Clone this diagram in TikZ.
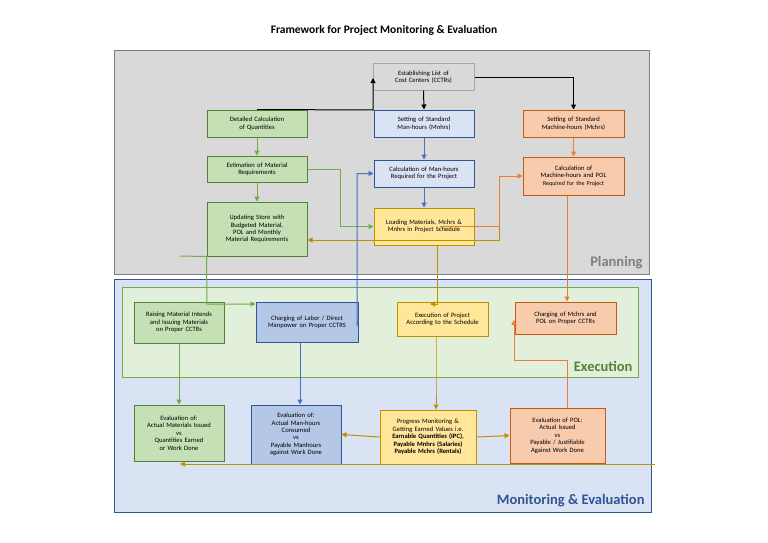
\documentclass[tikz,border=0pt]{standalone}
\usepackage{fontspec}
\setmainfont{Carlito}
\usetikzlibrary{arrows.meta}
\hyphenpenalty=10000
\exhyphenpenalty=10000
\begin{document}
\begin{tikzpicture}[x=1pt,y=-1pt,
  bx/.style={draw,line width=1pt,align=center,font=\fontsize{6.6}{7.4}\selectfont,inner sep=1pt},
  gbox/.style={bx,fill={rgb,255:red,197;green,224;blue,180},draw={rgb,255:red,84;green,130;blue,53}},
  bbox/.style={bx,fill={rgb,255:red,218;green,227;blue,243},draw={rgb,255:red,47;green,85;blue,151}},
  bbox2/.style={bx,fill={rgb,255:red,180;green,199;blue,231},draw={rgb,255:red,47;green,85;blue,151}},
  obox/.style={bx,fill={rgb,255:red,248;green,203;blue,173},draw={rgb,255:red,197;green,90;blue,17}},
  ybox/.style={bx,fill={rgb,255:red,255;green,230;blue,153},draw={rgb,255:red,191;green,144;blue,0}},
  kbox/.style={bx,fill={rgb,255:red,217;green,217;blue,217},draw={rgb,255:red,166;green,166;blue,166}},
  ar/.style={-{Triangle[length=5pt,width=5pt]},line width=1pt},
  gl/.style={draw={rgb,255:red,112;green,173;blue,71}},
  bl/.style={draw={rgb,255:red,68;green,114;blue,196}},
  ol/.style={draw={rgb,255:red,237;green,125;blue,49}},
  yl/.style={draw={rgb,255:red,191;green,144;blue,0}},
]
\useasboundingbox (0,0) rectangle (768,543);
\node[font=\bfseries\fontsize{11.5}{13}\selectfont] (title) at (384,30) {Framework for Project Monitoring \& Evaluation};
% regions
\draw[fill={rgb,255:red,217;green,217;blue,217},draw={rgb,255:red,127;green,127;blue,127}] (114,50) rectangle (649,274);
\draw[fill={rgb,255:red,218;green,227;blue,243},draw={rgb,255:red,47;green,85;blue,151},line width=0.8pt] (114,279) rectangle (651,512);
\draw[fill={rgb,255:red,226;green,239;blue,218},draw={rgb,255:red,112;green,173;blue,71},line width=0.8pt] (122,287) rectangle (638,377);
\node[anchor=south east,font=\bfseries\fontsize{14.5}{17}\selectfont,text={rgb,255:red,127;green,127;blue,127}] (lp) at (646,272) {Planning};
\node[anchor=south east,font=\bfseries\fontsize{14.5}{17}\selectfont,text={rgb,255:red,84;green,130;blue,53}] (le) at (636,375) {Execution};
\node[anchor=south east,font=\bfseries\fontsize{14.5}{17}\selectfont,text={rgb,255:red,47;green,85;blue,151}] (lm) at (648,510) {Monitoring \& Evaluation};
% nodes
\node[kbox,minimum width=101pt,minimum height=26pt,text width=80pt] (cc) at (423.5,77) {Establishing List of\\Cost Centers (CCTRs)};
\node[gbox,minimum width=100pt,minimum height=27pt,text width=80pt] (dq) at (257,123.5) {Detailed Calculation of Quantities};
\node[gbox,minimum width=100pt,minimum height=26pt,text width=80pt] (em) at (257,169) {Estimation of Material Requirements};
\node[gbox,minimum width=100pt,minimum height=54pt,text width=76pt] (us) at (257,229) {Updating Store with Budgeted Material, POL and Monthly Material Requirements};
\node[bbox,minimum width=100pt,minimum height=27pt,text width=80pt] (sm) at (424,123.5) {Setting of Standard\\Man-hours (Mnhrs)};
\node[bbox,minimum width=100pt,minimum height=27pt,text width=88pt] (cm) at (424,173.5) {Calculation of Man-hours Required for the Project};
\node[ybox,minimum width=100pt,minimum height=37pt,text width=80pt] (lo) at (424,226.5) {Loading Materials, Mchrs \& Mnhrs in Project Schedule};
\node[obox,minimum width=101pt,minimum height=27pt,text width=90pt] (sc) at (573.5,123.5) {Setting of Standard\\Machine-hours (Mchrs)};
\node[obox,minimum width=101pt,minimum height=38pt,text width=80pt] (cp) at (573.5,176) {Calculation of Machine-hours and POL\\{\fontsize{6}{7}\selectfont Required for the Project}};
\node[gbox,minimum width=90pt,minimum height=41pt,text width=86pt] (rm) at (179,322.5) {Raising Material Intends and Issuing Materials on Proper CCTRs};
\node[bbox2,minimum width=102pt,minimum height=40pt,text width=84pt] (cl) at (307,322) {Charging of Labor / Direct Manpower on Proper CCTRS};
\node[ybox,minimum width=91pt,minimum height=34pt,text width=87pt] (ex) at (442.5,319) {Execution of Project According to the Schedule};
\node[obox,minimum width=101pt,minimum height=32pt,text width=95pt] (ch) at (565.5,318) {Charging of Mchrs and POL on Proper CCTRs};
\node[gbox,minimum width=90pt,minimum height=56pt,text width=88pt] (ea) at (179,433) {Evaluation of:\\Actual Materials Issued\\vs\\Quantities Earned or Work Done};
\node[bbox2,minimum width=90pt,minimum height=59pt,text width=88pt] (eh) at (296,434.5) {Evaluation of:\\Actual Man-hours\\Consumed\\vs\\Payable Manhours against Work Done};
\node[ybox,minimum width=96pt,minimum height=54pt,text width=92pt] (pm) at (428,437) {Progress Monitoring \&\\Getting Earned Values i.e.\\\textbf{Earnable Quantities (IPC),}\\\textbf{Payable Mnhrs (Salaries)}\\\textbf{Payable Mchrs (Rentals)}};
\node[obox,minimum width=95pt,minimum height=55pt,text width=80pt] (ep) at (557.5,435.5) {Evaluation of POL:\\Actual Issued\\vs\\Payable / Justifiable Against Work Done};
% connectors
\coordinate (c1) at (373,78);
\draw[ar] (dq.north) -- (373,110) -- (c1);
\draw[ar] (cc.south) -- (sm.north);
\draw[ar] (cc.east) -| (sc.north);
\draw[ar,gl] (dq) -- (em);
\draw[ar,gl] (em) -- (us);
\draw[ar,gl] (em.east) -- (340,169) |- (lo.west);
\draw[ar,bl] (sm) -- (cm);
\draw[ar,bl] (cm) -- (lo);
\draw[ar,ol] (sc) -- (cp);
\draw[ar,ol] (440,226) -- (499,226) |- (cp.west);
\draw[ar,yl] (499,226) -- (499,240) -- (us.east |- 0,240);
\draw[gl,line width=1pt] (180,256) -- (us.south west);
\draw[ar,gl] (us.south west) -- (207,304) -- (cl.west |- 0,304);
\draw[ar,bl] (cl.east) -- (357,325) |- (cm.west);
\draw[ar,yl] (lo.south -| 437,0) -- (437,304) -- (430,304);
\draw[ar,yl] (ex.south -| 436,0) -- (436,386) -- (pm.north -| 436,0);
\draw[ar,ol] (cp.south -| 567,0) -- (ch.north -| 567,0);
\draw[ar,ol] (ep.north -| 567,0) -- (567,360) -- (514,360) -- (514,320);
\draw[ar,gl] (rm) -- (ea);
\draw[ar,bl] (cl.south -| 300,0) -- (eh.north -| 300,0);
\draw[ar,yl] (pm.west) -- (eh.east);
\draw[ar,yl] (pm.east) -- (ep.west);
\draw[ar,yl] (655,464) -- (180,464);
\end{tikzpicture}
\end{document}
